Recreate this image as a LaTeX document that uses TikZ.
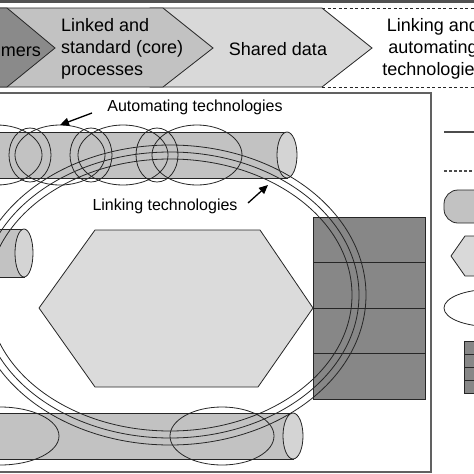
\documentclass[tikz,border=0pt]{standalone}
\usepackage{fontspec}
\setmainfont{Liberation Sans}
\usetikzlibrary{arrows.meta}

\begin{document}
\begin{tikzpicture}[x=1pt,y=-1pt,
    trait/.style={draw=black!85,line width=0.8pt},
    cadre/.style={draw=black!62,line width=2.5pt},
    cylindre/.style={trait,fill=black!24},
    bout/.style={trait,fill=black!17},
    titre/.style={font=\fontsize{18}{22}\selectfont,inner sep=0pt},
    legende/.style={font=\fontsize{16}{19}\selectfont,inner sep=0pt},
    fleche/.style={-{Triangle[length=9pt,width=8pt]},line width=1.3pt}]

    \useasboundingbox (0,0) rectangle (474,474);

    % Bande du haut
    \fill[black!68] (0,0) rectangle (474,3);

    % Dessiner les chevrons
    \draw[trait,dashed,dash pattern=on 3pt off 2.5pt] (322,8) -- (480,8);
    \draw[trait,dashed,dash pattern=on 3pt off 2.5pt] (322,87) -- (480,87);
    \filldraw[trait,fill=black!15] (150,8) -- (322,8) -- (372,48) -- (322,87) -- (150,87) -- cycle;
    \filldraw[trait,fill=black!24] (-5,8) -- (163,8) -- (213,48) -- (163,87) -- (-5,87) -- cycle;
    \filldraw[trait,fill=black!46] (-5,8) -- (7,8) -- (55,48) -- (7,87) -- (-5,87) -- cycle;

    % Textes des chevrons
    \node[titre,anchor=base east] (clients) at (41,56) {mers};
    \node[titre,anchor=west,align=left] (processus) at (61,49) {Linked and\\standard (core)\\processes};
    \node[titre,anchor=base] (donnees) at (278,55) {Shared data};
    \node[titre,align=center] (techno) at (433,49) {Linking and\\automating\\technologies};

    % Cadre principal
    \draw[cadre] (-5,93) rectangle (431,472);

    % Cylindres
    \filldraw[cylindre] (-5,132) rectangle (287,178);
    \filldraw[bout] (287,155) ellipse [x radius=10, y radius=23];
    \filldraw[cylindre] (-5,229) rectangle (24,277);
    \filldraw[bout] (24,253) ellipse [x radius=9, y radius=24];
    \filldraw[cylindre] (-5,413) rectangle (293,459);
    \filldraw[bout] (293,436) ellipse [x radius=10, y radius=23];

    % Hexagone (processus)
    \filldraw[trait,fill=black!14] (95,230) -- (260,230) -- (313,308) -- (258,387) -- (95,387) -- (39,308) -- cycle;

    % Pile de donnees
    \foreach \y in {217,262.5,308,353.5} {
        \filldraw[trait,fill=black!47] (313,\y) rectangle (425,\y+45.5);
    }

    % Technologies d'automatisation
    \foreach \x in {-3,60,123,197} {
        \draw[trait] (\x,155) ellipse [x radius=45, y radius=30];
    }
    \foreach \x in {30,91,157} {
        \draw[trait] (\x,155) ellipse [x radius=21, y radius=27];
    }
    \draw[trait] (0,436) ellipse [x radius=59, y radius=29];
    \draw[trait] (222,436) ellipse [x radius=52, y radius=29];

    % Technologies de liaison
    \foreach \r in {-7,0,7} {
        \draw[trait] (170,295) ellipse [x radius=189+\r, y radius=143+\r];
    }

    % Etiquettes et fleches
    \node[legende] (auto) at (195,107) {Automating technologies};
    \node[legende] (liaison) at (165,206) {Linking technologies};
    \coordinate (autoA) at (92,113);
    \coordinate (autoB) at (60,125);
    \draw[fleche] (autoA) -- (autoB);
    \coordinate (liaisonA) at (248,203);
    \coordinate (liaisonB) at (268,185);
    \draw[fleche] (liaisonA) -- (liaisonB);

    % Legende a droite
    \draw[draw=black!70,line width=1.5pt] (444,132) -- (480,132);
    \draw[draw=black!70,line width=1.2pt,dashed,dash pattern=on 3pt off 2pt] (444,171) -- (480,171);
    \filldraw[trait,fill=black!24,rounded corners=14pt] (480,190) -- (444,190) -- (444,223) -- (480,223);
    \filldraw[trait,fill=black!15] (480,236) -- (465,236) -- (451,256) -- (465,276) -- (480,276);
    \filldraw[trait,fill=white] (490,308) ellipse [x radius=46, y radius=18.5];
    \foreach \y in {341,354,367,380} {
        \filldraw[trait,fill=black!47] (464,\y) rectangle (480,\y+13);
    }

\end{tikzpicture}
\end{document}
